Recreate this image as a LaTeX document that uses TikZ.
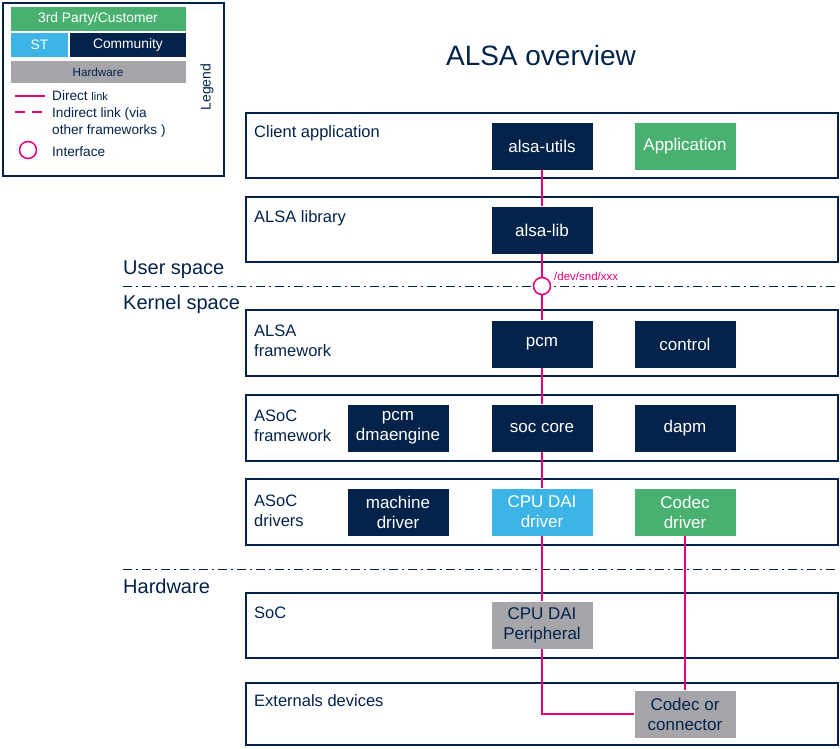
\documentclass[tikz,border=0pt]{standalone}
\usepackage{fontspec}
\setmainfont{Liberation Sans}
\definecolor{stnavy}{HTML}{03234B}
\definecolor{stblue}{HTML}{3CB4E6}
\definecolor{stgreen}{HTML}{49B170}
\definecolor{stgray}{HTML}{A5A5AA}
\definecolor{stpink}{HTML}{E6007E}
\newcommand{\fs}[1]{\fontsize{#1}{#1}\selectfont}
\begin{document}
\begin{tikzpicture}[x=1pt,y=-1pt,
	layer/.style={draw=stnavy,line width=1.3pt},
	blk/.style={minimum width=101pt,minimum height=47pt,inner sep=0pt,align=center,font=\fontsize{17}{20}\selectfont},
	comm/.style={blk,fill=stnavy,text=white},
	stbox/.style={blk,fill=stblue,text=white},
	cust/.style={blk,fill=stgreen,text=white},
	hw/.style={blk,fill=stgray,text=stnavy},
	lbl/.style={anchor=west,align=left,text=stnavy,inner sep=0pt,font=\fontsize{16.5}{20}\selectfont},
	space/.style={anchor=west,text=stnavy,inner sep=0pt,font=\fontsize{20}{24}\selectfont},
	link/.style={draw=stpink,line width=2pt},
	border/.style={draw=stnavy,line width=1pt,dash pattern=on 9pt off 4pt on 2pt off 4pt}]
	\useasboundingbox (0,0) rectangle (840,748);
	% legend
	\draw[stnavy,line width=1.5pt] (3,3) rectangle (224,176);
	\node[cust,minimum width=175pt,minimum height=24pt,font=\fs{13.8}] (lgcust) at (98,19) {3rd Party/Customer};
	\node[stbox,minimum width=57pt,minimum height=24pt,font=\fs{13.8}] (lgst) at (39.5,45) {ST};
	\node[comm,minimum width=116pt,minimum height=24pt,font=\fs{13.8}] (lgcomm) at (128,45) {Community};
	\node[hw,minimum width=175pt,minimum height=22pt,font=\fs{11.7}] (lghw) at (98,72) {Hardware};
	\coordinate (d1) at (15,96); \coordinate (d2) at (45,96);
	\draw[link] (d1) -- (d2);
	\coordinate (i1) at (15,112); \coordinate (i2) at (45,112);
	\draw[link,dash pattern=on 10pt off 7pt] (i1) -- (i2);
	\draw[stpink,line width=1.5pt] (28,150) circle (8.5);
	\node[anchor=west,inner sep=0pt,text=stnavy,font=\fs{13.6}] (lgdir) at (52,96) {Direct {\fs{11}link}};
	\node[anchor=west,inner sep=0pt,align=left,text=stnavy,font=\fontsize{13.6}{17}\selectfont] (lgind) at (52,122) {Indirect link (via\\other frameworks )};
	\node[anchor=west,inner sep=0pt,text=stnavy,font=\fs{13.6}] (lgif) at (52,152) {Interface};
	\node[rotate=90,text=stnavy,font=\fs{14}] (lgtitle) at (207,87) {Legend};
	% title
	\node[text=stnavy,font=\fs{28}] (title) at (541,55) {ALSA overview};
	% layers
	\draw[layer] (246,113) rectangle (838,178);
	\draw[layer] (246,197) rectangle (838,262);
	\draw[layer] (246,310) rectangle (838,376);
	\draw[layer] (246,395) rectangle (838,461);
	\draw[layer] (246,479) rectangle (838,545);
	\draw[layer] (246,593) rectangle (838,658);
	\draw[layer] (246,683) rectangle (838,745);
	\node[lbl] at (254,133) {Client application};
	\node[lbl] at (254,218) {ALSA library};
	\node[lbl] at (254,341) {ALSA\\framework};
	\node[lbl] at (254,426) {ASoC\\framework};
	\node[lbl] at (254,511) {ASoC\\drivers};
	\node[lbl] at (254,613) {SoC};
	\node[lbl] at (254,701) {Externals devices};
	% spaces
	\coordinate (uk1) at (123,286); \coordinate (uk2) at (838,286);
	\draw[border] (uk1) -- (uk2);
	\coordinate (hw1) at (123,569); \coordinate (hw2) at (838,569);
	\draw[border] (hw1) -- (hw2);
	\node[space] at (123,270) {User space};
	\node[space] at (123,304) {Kernel space};
	\node[space] at (123,586) {Hardware};
	% blocks
	\node[comm] (utils) at (542,146) {alsa-utils};
	\node[cust] (app) at (685,146) {Application};
	\node[comm] (lib) at (542,230) {alsa-lib};
	\node[comm] (pcm) at (542,344) {pcm};
	\node[comm] (control) at (685,344) {control};
	\node[comm] (dma) at (398,428) {pcm\\dmaengine};
	\node[comm] (core) at (542,428) {soc core};
	\node[comm] (dapm) at (685,428) {dapm};
	\node[comm] (machine) at (398,512) {machine\\driver};
	\node[stbox] (cpudrv) at (542,512) {CPU DAI\\driver};
	\node[cust] (codecdrv) at (685,512) {Codec\\driver};
	\node[hw] (periph) at (542,625) {CPU DAI\\Peripheral};
	\node[hw] (codecconn) at (685,714) {Codec or\\connector};
	% links
	\node[circle,draw=stpink,line width=1.5pt,fill=white,minimum size=17pt,inner sep=0pt] (iface) at (542,286) {};
	\node[anchor=west,inner sep=0pt,text=stpink,font=\fs{11.5}] (dev) at (554,276) {/dev/snd/xxx};
	\draw[link] (utils) -- (lib);
	\draw[link] (lib) -- (iface);
	\draw[link] (iface) -- (pcm);
	\draw[link] (pcm) -- (core);
	\draw[link] (core) -- (cpudrv);
	\draw[link] (cpudrv) -- (periph);
	\draw[link] (periph.south) |- (codecconn.west);
	\draw[link] (codecdrv) -- (codecconn);
\end{tikzpicture}
\end{document}
